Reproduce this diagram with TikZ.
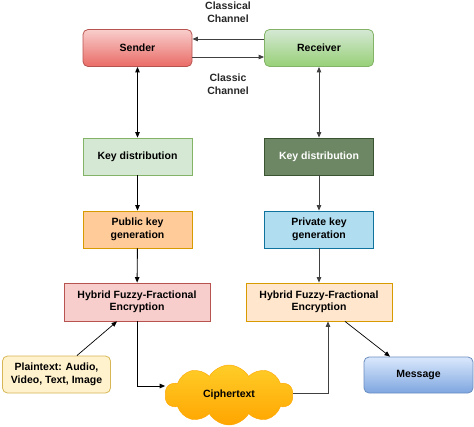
\documentclass[tikz,border=0pt]{standalone}
\usepackage{fontspec}
\setmainfont{Liberation Sans}
\usetikzlibrary{shapes.symbols,arrows.meta}
\definecolor{redA}{HTML}{F8CECC}\definecolor{redB}{HTML}{EA6B66}\definecolor{redL}{HTML}{B85450}
\definecolor{grnA}{HTML}{D5E8D4}\definecolor{grnB}{HTML}{97D077}\definecolor{grnL}{HTML}{82B366}
\definecolor{dgrn}{HTML}{6D8764}\definecolor{dgrnL}{HTML}{3A5431}
\definecolor{orgF}{HTML}{FFCC99}\definecolor{orgL}{HTML}{D79B00}
\definecolor{bluF}{HTML}{B1DDF0}\definecolor{bluL}{HTML}{10739E}
\definecolor{pchF}{HTML}{FFE6CC}
\definecolor{ylwF}{HTML}{FFF2CC}\definecolor{ylwL}{HTML}{D6B656}
\definecolor{msgA}{HTML}{DAE8FC}\definecolor{msgB}{HTML}{7EA6E0}\definecolor{msgL}{HTML}{6C8EBF}
\definecolor{cldA}{HTML}{FFCD28}\definecolor{cldB}{HTML}{FFA500}
\begin{document}
\begin{tikzpicture}[x=1pt,y=-1pt,
  box/.style={draw, line width=0.8pt, minimum width=109pt, minimum height=37pt, align=center,
     font=\fontsize{10.5}{12.5}\selectfont\bfseries, inner sep=1pt},
  rbox/.style={box, rounded corners=5pt},
  wide/.style={box, minimum width=146pt, minimum height=38pt},
  arr/.style={-{Triangle[length=5.5pt,width=4.5pt]}, line width=0.9pt},
  garr/.style={arr, draw=black!75},
  lbl/.style={font=\fontsize{10.5}{12.5}\selectfont\bfseries, align=center, text=black!85}]
\useasboundingbox (0,0) rectangle (474,426);
\node[rbox, draw=redL, top color=redA, bottom color=redB] (snd) at (137.5,48) {Sender};
\node[rbox, draw=grnL, top color=grnA, bottom color=grnB] (rcv) at (319,48) {Receiver};
\node[box, draw=grnL, fill=grnA] (kd1) at (137.5,156.5) {Key distribution};
\node[box, draw=dgrnL, fill=dgrn, text=white] (kd2) at (319,156.5) {Key distribution};
\node[box, draw=orgL, fill=orgF] (pk) at (137.5,229.5) {Public key\\generation};
\node[box, draw=bluL, fill=bluF] (vk) at (319,229.5) {Private key\\generation};
\node[wide, draw=redL, fill=redA] (h1) at (137,302) {Hybrid Fuzzy-Fractional\\Encryption};
\node[wide, draw=orgL, fill=pchF] (h2) at (319,302) {Hybrid Fuzzy-Fractional\\Encryption};
\node[rbox, draw=ylwL, fill=ylwF, minimum width=108pt] (pt) at (56.5,374.5) {Plaintext: Audio,\\Video, Text, Image};
\node[rbox, draw=msgL, top color=msgA, bottom color=msgB, minimum width=109pt, minimum height=36pt] (msg) at (418.5,375) {Message};
\node[cloud, cloud puffs=10, cloud puff arc=120, aspect=2.1, draw=cldB, top color=cldA, bottom color=cldB,
      minimum width=128pt, minimum height=60pt, inner sep=0pt, font=\fontsize{10.5}{12.5}\selectfont\bfseries] (cph) at (229,395) {Ciphertext};
\node[lbl] (l1) at (228,12) {Classical\\Channel};
\node[lbl] (l2) at (228,84) {Classic\\Channel};
\draw[garr] (rcv.west |- 0,39) -- (snd.east |- 0,39);
\draw[garr] (snd.east |- 0,57) -- (rcv.west |- 0,57);
\draw[arr, {Triangle[length=5.5pt,width=4.5pt]}-{Triangle[length=5.5pt,width=4.5pt]}] (snd) -- (kd1);
\draw[garr, {Triangle[length=5.5pt,width=4.5pt]}-{Triangle[length=5.5pt,width=4.5pt]}] (rcv) -- (kd2);
\draw[arr] (kd1) -- (pk);
\draw[arr] (pk) -- (h1);
\draw[garr] (kd2) -- (vk);
\draw[garr] (vk) -- (h2);
\draw[arr, line width=0.7pt] (pt.north east |- pt.north) ++(-34,0) coordinate (pa) -- (h1.south -| 117,0);
\draw[arr] (h1.south) -- (137,386) -- (cph.west |- 0,386);
\draw[garr] (cph.east |- 0,393) -- (328,393) -- (h2.south -| 328,0);
\draw[arr, line width=0.7pt] (h2.south -| 345,0) -- (msg.north -| 390,0);
\end{tikzpicture}
\end{document}
